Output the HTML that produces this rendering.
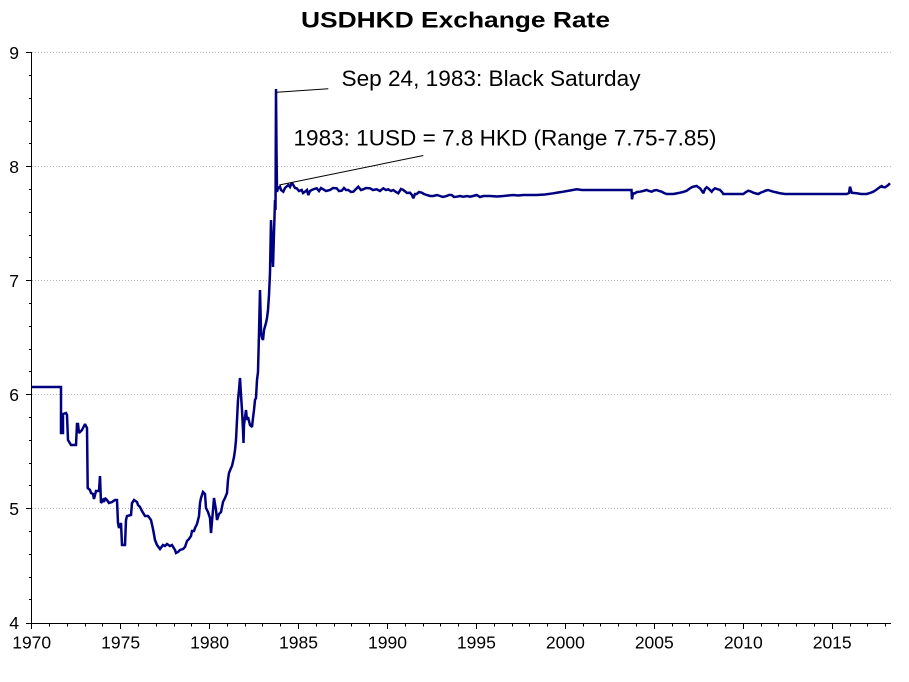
<!DOCTYPE html>
<html>
<head>
<meta charset="utf-8">
<style>
html,body{margin:0;padding:0;background:#fff;}
svg{display:block;}
text{font-family:"Liberation Sans",Arial,sans-serif;fill:#000;}
</style>
</head>
<body>
<svg width="909" height="682" viewBox="0 0 909 682" xmlns="http://www.w3.org/2000/svg">
<rect x="0" y="0" width="909" height="682" fill="#fff"/>
<!-- title -->
<text x="301" y="27.5" font-size="22.5" font-weight="bold" textLength="309" lengthAdjust="spacingAndGlyphs">USDHKD Exchange Rate</text>

<!-- gridlines -->
<g stroke="#b8b8b8" stroke-width="1" stroke-dasharray="1 2" fill="none">
<path d="M32 52.5H891M32 166.5H891M32 280.5H891M32 394.5H891M32 508.5H891"/>
</g>

<!-- axes -->
<g stroke="#000" stroke-width="1" fill="none">
<path d="M31.5 52V624M31 623.5H891"/>
<path d="M26 52.5H32M26 166.5H32M26 280.5H32M26 394.5H32M26 508.5H32M26 623.5H32"/>
<path d="M29 75.5H32M29 98.5H32M29 121.5H32M29 143.5H32M29 189.5H32M29 212.5H32M29 235.5H32M29 257.5H32M29 303.5H32M29 326.5H32M29 349.5H32M29 371.5H32M29 417.5H32M29 440.5H32M29 463.5H32M29 485.5H32M29 531.5H32M29 554.5H32M29 577.5H32M29 599.5H32"/>
<path d="M31.5 623V629M120.5 623V629M209.5 623V629M298.5 623V629M387.5 623V629M476.5 623V629M565.5 623V629M654.5 623V629M743.5 623V629M832.5 623V629"/>
<path d="M49.5 623V626.5M67.5 623V626.5M85.5 623V626.5M102.5 623V626.5M138.5 623V626.5M156.5 623V626.5M174.5 623V626.5M191.5 623V626.5M227.5 623V626.5M245.5 623V626.5M262.5 623V626.5M280.5 623V626.5M316.5 623V626.5M334.5 623V626.5M351.5 623V626.5M369.5 623V626.5M405.5 623V626.5M423.5 623V626.5M440.5 623V626.5M458.5 623V626.5M494.5 623V626.5M512.5 623V626.5M529.5 623V626.5M547.5 623V626.5M583.5 623V626.5M600.5 623V626.5M618.5 623V626.5M636.5 623V626.5M672.5 623V626.5M689.5 623V626.5M707.5 623V626.5M725.5 623V626.5M761.5 623V626.5M778.5 623V626.5M796.5 623V626.5M814.5 623V626.5M850.5 623V626.5M867.5 623V626.5M885.5 623V626.5"/>
</g>

<!-- y labels -->
<g font-size="17.5" text-anchor="end">
<text x="19" y="59">9</text>
<text x="19" y="173">8</text>
<text x="19" y="287">7</text>
<text x="19" y="401">6</text>
<text x="19" y="515">5</text>
<text x="19" y="629">4</text>
</g>
<!-- x labels -->
<g font-size="17.5" text-anchor="middle">
<text x="31.7" y="648.5">1970</text>
<text x="120.6" y="648.5">1975</text>
<text x="209.6" y="648.5">1980</text>
<text x="298.5" y="648.5">1985</text>
<text x="387.5" y="648.5">1990</text>
<text x="476.4" y="648.5">1995</text>
<text x="565.4" y="648.5">2000</text>
<text x="654.3" y="648.5">2005</text>
<text x="743.3" y="648.5">2010</text>
<text x="832.2" y="648.5">2015</text>
</g>

<!-- data series -->
<polyline fill="none" stroke="#000080" stroke-width="2.5" stroke-linejoin="miter" stroke-miterlimit="2" points="
32,387 61,387 61,433 63,433 63,414 66,413 67,415 68,440 71,445 76,445 77,424 78,424 79,433 82,430 83,428 85,424 87,428 87.7,488 90,490 91,493 93,494 94,499 96,491 99,491 100,476 101,503 103,500 104,502 105,498 107,500 109,503 112,502 115,500 117,500 118,523 119,528 121,523 122,545 125,545 126,520 127,516 131,515 132,503 134,500 137,502 138,505 140,507 142,511 145,516 148,516 151,520 153,529 155,540 157,545 160,549 163,545 165,546 167,544 170,546 172,545 175,550 176,553 178,552 180,550 183,549 185,547 187,541 189,539 191,536 192,531 194,531 195,528 197,524 199,516 200,503 201,498 203,492 205,494 206,508 208,512 210,518 211,533 213,510 214,498 216,510 217,520 219,514 221,512 223,502 225,498 227,493 228,480 229,473 231,468 232,466 234,457 235,450 236,440 237,420 238,400 239,390 240,378 241,395 242,410 243,430 243.5,443 244,425 246,410 247,420 248,417 250,425 252,427 253,418 254,410 255,400 256,398 257,380 258,372 259,333 260,290 260.5,310 261,333 262,338 263,340 264,330 266,323 267,318 268,310 269,295 270,273 271,220 272,245 273,267 274,233 275,200 275.5,210 276,89 276.5,150 277,192 278,188 280,186.7 281,190 283.3,191.7 285,188 288.3,185 290,187 291.7,182.7 293.3,185 295,188 296.7,188.3 299,191 301.7,190 303,193 305,191.7 307,190 308.3,195 310,191 311.7,190 314,189 316.7,188.3 319,191 321,188 323.3,189.3 326,191 330,190 333,188 336.7,188.3 339,191 341.7,190.7 344,188 346,190 348.3,190 351,192 353.3,191.7 356,189 358.3,186.7 361,190 363.3,189.3 366,188 370,188.3 373,190 376.7,189.3 380,191 383.3,188.3 386,190 388.3,189.3 391,191 393.3,190 396,192 398.3,193.3 401,189 403.3,190 407,193 410,192.7 412,195 413.3,198.3 415,194 416.7,194 419,192 421.7,192.7 424,194 426.7,195 430,196 433.3,196 437,195 440,196 443,197 446.7,196 449,195 451.7,195 454,197 456.7,196.7 460,196 463.3,196.7 467,196 470,196.7 473,196 476.7,195 480,197 483.3,196 487,196 490,196 497,196.5 503.3,196 508,195.5 513.3,195 518,195.5 523.3,195 530,195 536.7,195 545,194.5 553.3,193.3 558,192.5 563.3,191.7 570,190.5 576.7,189.3 582,190 590,190 600,190 610,190 620,190 631.5,190 632,199.3 633,193.5 635,193.3 637,192 640,191.7 643,191 646.7,190 649,191 651.7,191.7 654,190.5 656.7,190 659,191 661.7,191.7 664,193 666.7,194 670,194 673.3,194 676,193.5 680,192.7 683,192 686.7,190.7 689,189 691.7,187.3 694,186.5 696.7,186 698,187 700,188.3 702,191 703.3,193.3 705,189 706.7,187.3 709,189 711.7,191.7 713,190 715,188.3 717,189 720,190 722,192 723.3,194 728,194 733.3,194 738,194 743.3,194 746,192 748.3,190.7 751,191.5 753.3,192.7 756,193.5 758.3,194 761,192.5 763.3,191.7 766,190.5 768.3,190 771,191 773.3,191.7 777,192.5 780,193.3 785,194 790,194 800,194 806.7,194 813,194 820,194 827,194 833.3,194 840,194 846.7,194 849,193 850,186.7 851.7,192.7 854,193 856.7,193.3 861,194 866.7,194 870,193 873.3,191.7 876,190 878.3,188.3 880,187 881.7,186 883,187 885,187.3 887,186 888.3,185 890,183.3"/>

<!-- annotations -->
<g stroke="#000" stroke-width="1" fill="none">
<line x1="276.7" y1="92.3" x2="328.3" y2="88.7"/>
<line x1="279.3" y1="185" x2="423.3" y2="155.5"/>
</g>
<text x="341.5" y="86" font-size="22.5" textLength="299" lengthAdjust="spacingAndGlyphs">Sep 24, 1983: Black Saturday</text>
<text x="293.5" y="145.5" font-size="22" textLength="423" lengthAdjust="spacingAndGlyphs">1983: 1USD = 7.8 HKD (Range 7.75-7.85)</text>
</svg>
</body>
</html>
